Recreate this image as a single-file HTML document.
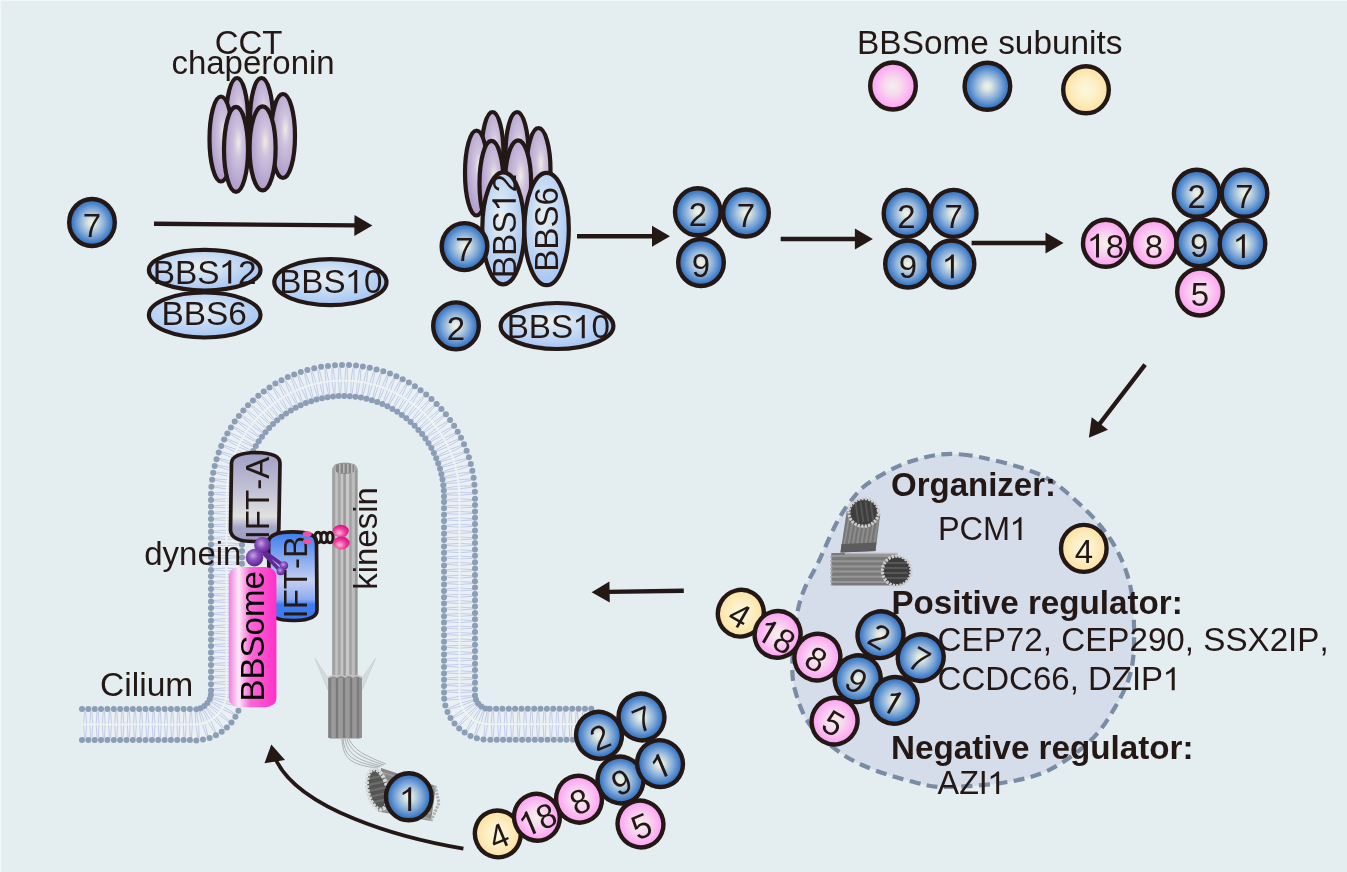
<!DOCTYPE html>
<html><head><meta charset="utf-8"><style>html,body{margin:0;padding:0;background:#e4edf0;}svg{display:block;font-kerning:none;filter:grayscale(0);}</style></head>
<body><svg width="1347" height="872" viewBox="0 0 1347 872">

<defs>
<radialGradient id="gB" cx="0.5" cy="0.5" r="0.5"><stop offset="0" stop-color="#eef3e2"/><stop offset="0.15" stop-color="#dfe9e4"/><stop offset="0.55" stop-color="#88aed9"/><stop offset="0.85" stop-color="#427ec8"/><stop offset="1" stop-color="#3473c2"/></radialGradient>
<radialGradient id="gP" cx="0.5" cy="0.5" r="0.5"><stop offset="0" stop-color="#f3f2e8"/><stop offset="0.35" stop-color="#f8daf0"/><stop offset="0.8" stop-color="#fcb0f2"/><stop offset="1" stop-color="#ff9cf0"/></radialGradient>
<radialGradient id="gY" cx="0.5" cy="0.5" r="0.5"><stop offset="0" stop-color="#fbf8e0"/><stop offset="0.5" stop-color="#fcefc4"/><stop offset="1" stop-color="#fde0a0"/></radialGradient>
<radialGradient id="gCCT" cx="0.6" cy="0.42" r="0.6"><stop offset="0" stop-color="#eeeee2"/><stop offset="0.3" stop-color="#cfc3de"/><stop offset="1" stop-color="#ac9aca"/></radialGradient>
<radialGradient id="gE" cx="0.45" cy="0.4" r="0.6"><stop offset="0" stop-color="#eaf1f0"/><stop offset="0.5" stop-color="#c6dbf4"/><stop offset="1" stop-color="#a6c5f4"/></radialGradient>
<linearGradient id="gIA" x1="0" y1="0" x2="0" y2="1"><stop offset="0" stop-color="#a09fc6"/><stop offset="0.45" stop-color="#c4c5d6"/><stop offset="0.72" stop-color="#e0e2e0"/><stop offset="0.84" stop-color="#a6a6c8"/><stop offset="1" stop-color="#9c9bc4"/></linearGradient>
<linearGradient id="gIB" x1="0" y1="0" x2="0" y2="1"><stop offset="0" stop-color="#3a7cf0"/><stop offset="0.55" stop-color="#c4d0f0"/><stop offset="0.76" stop-color="#8eaaf0"/><stop offset="0.82" stop-color="#3f7ef0"/><stop offset="1" stop-color="#3a78f0"/></linearGradient>
<linearGradient id="gBBS" x1="0" y1="0" x2="1" y2="0"><stop offset="0" stop-color="#f07ee0"/><stop offset="0.21" stop-color="#fce8f8"/><stop offset="0.45" stop-color="#fc68d8"/><stop offset="1" stop-color="#ff30c8"/></linearGradient>
<radialGradient id="gDyn" cx="0.42" cy="0.38" r="0.62"><stop offset="0" stop-color="#c4a4de"/><stop offset="0.45" stop-color="#8a52c0"/><stop offset="1" stop-color="#5c2290"/></radialGradient>
<radialGradient id="gKin" cx="0.4" cy="0.65" r="0.6"><stop offset="0" stop-color="#f9b8d8"/><stop offset="0.6" stop-color="#ec3f9c"/><stop offset="1" stop-color="#e4168a"/></radialGradient>
<linearGradient id="gAx" x1="0" y1="0" x2="1" y2="0"><stop offset="0" stop-color="#9a9a9a"/><stop offset="0.5" stop-color="#c6c6c6"/><stop offset="1" stop-color="#a0a0a0"/></linearGradient>
<linearGradient id="gBas" x1="0" y1="0" x2="1" y2="0"><stop offset="0" stop-color="#7a7a7a"/><stop offset="0.5" stop-color="#9a9a9a"/><stop offset="1" stop-color="#7c7c7c"/></linearGradient>
</defs>

<rect x="0" y="0" width="1347" height="872" fill="#e4edf0"/><rect x="0" y="0" width="1347" height="1.2" fill="#f0f7f7"/><rect x="0" y="0" width="1.2" height="872" fill="#f0f7f7"/>
<g font-family="Liberation Sans, sans-serif">
<g transform="translate(0 0)" stroke="#231815" stroke-width="4.2" fill="url(#gCCT)">
<ellipse cx="237" cy="120" rx="11" ry="42"/>
<ellipse cx="261.5" cy="120" rx="11.5" ry="42"/>
<ellipse cx="221" cy="139" rx="11.5" ry="42.5"/>
<ellipse cx="283" cy="136" rx="12" ry="42"/>
<ellipse cx="236" cy="149.4" rx="12" ry="42.5"/>
<ellipse cx="262.6" cy="148.4" rx="13" ry="42"/>
</g>
<text x="214.70" y="54.10" font-size="33" font-weight="normal" fill="#231815">CCT</text>
<text x="171.40" y="74.10" font-size="33" font-weight="normal" fill="#231815">chaperonin</text>
<ellipse cx="92.0" cy="222.5" rx="22.8" ry="23.5" fill="url(#gB)" stroke="#231815" stroke-width="4.4"/>
<g transform="translate(92.0 236.8) scale(1 1.035)"><text x="-9.18" y="0.00" font-size="33" font-weight="normal" fill="#231815">7</text>
</g>
<line x1="154" y1="223.8" x2="356.4" y2="225.4" stroke="#231815" stroke-width="4.4"/>
<polygon points="372.4,225.5 354.3,235.9 354.5,214.9" fill="#231815"/>
<ellipse cx="204.7" cy="270.2" rx="55.8" ry="20.3" fill="url(#gE)" stroke="#231815" stroke-width="4.2"/>
<text x="152.70" y="283.60" font-size="33.4" font-weight="normal" fill="#231815">BBS 2</text>
<path d="M0.35 0L0.35 0.70L0.285 0.70L0.25 0.65L0.18 0.595L0.09 0.548L0.09 0.468L0.17 0.505L0.26 0.565L0.26 0Z" fill="#231815" transform="translate(219.53 283.60) scale(33.4 -33.4)"/>
<ellipse cx="204.7" cy="315" rx="55.8" ry="22.5" fill="url(#gE)" stroke="#231815" stroke-width="4.2"/>
<text x="161.40" y="325.10" font-size="33.4" font-weight="normal" fill="#231815">BBS6</text>
<ellipse cx="330.4" cy="282.1" rx="56.1" ry="23" fill="url(#gE)" stroke="#231815" stroke-width="4.2"/>
<text x="279.20" y="293.30" font-size="33.2" font-weight="normal" fill="#231815">BBS 0</text>
<path d="M0.35 0L0.35 0.70L0.285 0.70L0.25 0.65L0.18 0.595L0.09 0.548L0.09 0.468L0.17 0.505L0.26 0.565L0.26 0Z" fill="#231815" transform="translate(345.63 293.30) scale(33.2 -33.2)"/>
<g transform="translate(255.5 34)" stroke="#231815" stroke-width="4.2" fill="url(#gCCT)">
<ellipse cx="237" cy="120" rx="11" ry="42"/>
<ellipse cx="261.5" cy="120" rx="11.5" ry="42"/>
<ellipse cx="221" cy="139" rx="11.5" ry="42.5"/>
<ellipse cx="283" cy="136" rx="12" ry="42"/>
<ellipse cx="236" cy="149.4" rx="12" ry="42.5"/>
<ellipse cx="262.6" cy="148.4" rx="13" ry="42"/>
</g>
<ellipse cx="503.3" cy="228.3" rx="21" ry="56" fill="url(#gE)" stroke="#231815" stroke-width="4.2"/>
<g transform="translate(515.8 226) rotate(-90)"><text x="-52.30" y="0.00" font-size="33.6" font-weight="normal" fill="#231815">BBS 2</text>
<path d="M0.35 0L0.35 0.70L0.285 0.70L0.25 0.65L0.18 0.595L0.09 0.548L0.09 0.468L0.17 0.505L0.26 0.565L0.26 0Z" fill="#231815" transform="translate(14.93 0.00) scale(33.6 -33.6)"/>
</g>
<ellipse cx="546.6" cy="229" rx="22.2" ry="56.2" fill="url(#gE)" stroke="#231815" stroke-width="4.2"/>
<g transform="translate(558 229.4) rotate(-90)"><text x="-42.45" y="0.00" font-size="33.2" font-weight="normal" fill="#231815">BBS6</text>
</g>
<ellipse cx="464.5" cy="246.6" rx="22.8" ry="23.5" fill="url(#gB)" stroke="#231815" stroke-width="4.4"/>
<g transform="translate(464.5 260.9) scale(1 1.035)"><text x="-9.18" y="0.00" font-size="33" font-weight="normal" fill="#231815">7</text>
</g>
<ellipse cx="456.0" cy="325.9" rx="22.8" ry="23.5" fill="url(#gB)" stroke="#231815" stroke-width="4.4"/>
<g transform="translate(456.0 340.2) scale(1 1.035)"><text x="-9.18" y="0.00" font-size="33" font-weight="normal" fill="#231815">2</text>
</g>
<ellipse cx="557" cy="326" rx="56.4" ry="23" fill="url(#gE)" stroke="#231815" stroke-width="4.2"/>
<text x="506.70" y="338.30" font-size="33.2" font-weight="normal" fill="#231815">BBS 0</text>
<path d="M0.35 0L0.35 0.70L0.285 0.70L0.25 0.65L0.18 0.595L0.09 0.548L0.09 0.468L0.17 0.505L0.26 0.565L0.26 0Z" fill="#231815" transform="translate(573.13 338.30) scale(33.2 -33.2)"/>
<line x1="577" y1="236.3" x2="654.0" y2="236.3" stroke="#231815" stroke-width="4.4"/>
<polygon points="670.0,236.3 652.0,246.8 652.0,225.8" fill="#231815"/>
<ellipse cx="697.8" cy="211.8" rx="22.8" ry="23.5" fill="url(#gB)" stroke="#231815" stroke-width="4.4"/>
<g transform="translate(697.8 226.1) scale(1 1.035)"><text x="-9.18" y="0.00" font-size="33" font-weight="normal" fill="#231815">2</text>
</g>
<ellipse cx="746.0" cy="213.0" rx="22.8" ry="23.5" fill="url(#gB)" stroke="#231815" stroke-width="4.4"/>
<g transform="translate(746.0 227.3) scale(1 1.035)"><text x="-9.18" y="0.00" font-size="33" font-weight="normal" fill="#231815">7</text>
</g>
<ellipse cx="701.0" cy="262.5" rx="22.8" ry="23.5" fill="url(#gB)" stroke="#231815" stroke-width="4.4"/>
<g transform="translate(701.0 276.8) scale(1 1.035)"><text x="-9.18" y="0.00" font-size="33" font-weight="normal" fill="#231815">9</text>
</g>
<line x1="780.7" y1="239" x2="856.9" y2="239.0" stroke="#231815" stroke-width="4.4"/>
<polygon points="872.9,239.0 854.9,249.5 854.9,228.5" fill="#231815"/>
<ellipse cx="906.5" cy="213.4" rx="22.8" ry="23.5" fill="url(#gB)" stroke="#231815" stroke-width="4.4"/>
<g transform="translate(906.5 227.7) scale(1 1.035)"><text x="-9.18" y="0.00" font-size="33" font-weight="normal" fill="#231815">2</text>
</g>
<ellipse cx="953.7" cy="213.4" rx="22.8" ry="23.5" fill="url(#gB)" stroke="#231815" stroke-width="4.4"/>
<g transform="translate(953.7 227.7) scale(1 1.035)"><text x="-9.18" y="0.00" font-size="33" font-weight="normal" fill="#231815">7</text>
</g>
<ellipse cx="908.0" cy="264.0" rx="22.8" ry="23.5" fill="url(#gB)" stroke="#231815" stroke-width="4.4"/>
<g transform="translate(908.0 278.3) scale(1 1.035)"><text x="-9.18" y="0.00" font-size="33" font-weight="normal" fill="#231815">9</text>
</g>
<ellipse cx="951.5" cy="264.0" rx="22.8" ry="23.5" fill="url(#gB)" stroke="#231815" stroke-width="4.4"/>
<g transform="translate(951.5 278.3) scale(1 1.035)"><text x="-9.18" y="0.00" font-size="33" font-weight="normal" fill="#231815"> </text>
<path d="M0.35 0L0.35 0.70L0.285 0.70L0.25 0.65L0.18 0.595L0.09 0.548L0.09 0.468L0.17 0.505L0.26 0.565L0.26 0Z" fill="#231815" transform="translate(-9.18 0.00) scale(33 -33)"/>
</g>
<line x1="971.6" y1="243" x2="1047.5" y2="243.0" stroke="#231815" stroke-width="4.4"/>
<polygon points="1063.5,243.0 1045.5,253.5 1045.5,232.5" fill="#231815"/>
<ellipse cx="1105.8" cy="243.3" rx="22.8" ry="23.5" fill="url(#gP)" stroke="#231815" stroke-width="4.4"/>
<g transform="translate(1105.8 257.6) scale(1 1.035)"><text x="-18.35" y="0.00" font-size="33" font-weight="normal" fill="#231815"> 8</text>
<path d="M0.35 0L0.35 0.70L0.285 0.70L0.25 0.65L0.18 0.595L0.09 0.548L0.09 0.468L0.17 0.505L0.26 0.565L0.26 0Z" fill="#231815" transform="translate(-18.35 0.00) scale(33 -33)"/>
</g>
<ellipse cx="1153.8" cy="243.3" rx="22.8" ry="23.5" fill="url(#gP)" stroke="#231815" stroke-width="4.4"/>
<g transform="translate(1153.8 257.6) scale(1 1.035)"><text x="-9.18" y="0.00" font-size="33" font-weight="normal" fill="#231815">8</text>
</g>
<ellipse cx="1199.2" cy="242.6" rx="22.8" ry="23.5" fill="url(#gB)" stroke="#231815" stroke-width="4.4"/>
<g transform="translate(1199.2 256.9) scale(1 1.035)"><text x="-9.18" y="0.00" font-size="33" font-weight="normal" fill="#231815">9</text>
</g>
<ellipse cx="1242.5" cy="243.8" rx="22.8" ry="23.5" fill="url(#gB)" stroke="#231815" stroke-width="4.4"/>
<g transform="translate(1242.5 258.1) scale(1 1.035)"><text x="-9.18" y="0.00" font-size="33" font-weight="normal" fill="#231815"> </text>
<path d="M0.35 0L0.35 0.70L0.285 0.70L0.25 0.65L0.18 0.595L0.09 0.548L0.09 0.468L0.17 0.505L0.26 0.565L0.26 0Z" fill="#231815" transform="translate(-9.18 0.00) scale(33 -33)"/>
</g>
<ellipse cx="1196.7" cy="193.3" rx="22.8" ry="23.5" fill="url(#gB)" stroke="#231815" stroke-width="4.4"/>
<g transform="translate(1196.7 207.6) scale(1 1.035)"><text x="-9.18" y="0.00" font-size="33" font-weight="normal" fill="#231815">2</text>
</g>
<ellipse cx="1244.5" cy="193.3" rx="22.8" ry="23.5" fill="url(#gB)" stroke="#231815" stroke-width="4.4"/>
<g transform="translate(1244.5 207.6) scale(1 1.035)"><text x="-9.18" y="0.00" font-size="33" font-weight="normal" fill="#231815">7</text>
</g>
<ellipse cx="1200.0" cy="292.0" rx="22.8" ry="23.5" fill="url(#gP)" stroke="#231815" stroke-width="4.4"/>
<g transform="translate(1200.0 306.3) scale(1 1.035)"><text x="-9.18" y="0.00" font-size="33" font-weight="normal" fill="#231815">5</text>
</g>
<text x="857.10" y="53.70" font-size="33.4" font-weight="normal" fill="#231815">BBSome subunits</text>
<ellipse cx="893.0" cy="86.0" rx="22.8" ry="23.5" fill="url(#gP)" stroke="#231815" stroke-width="4.4"/>
<ellipse cx="987.4" cy="86.3" rx="22.8" ry="23.5" fill="url(#gB)" stroke="#231815" stroke-width="4.4"/>
<ellipse cx="1086.0" cy="89.8" rx="22.8" ry="23.5" fill="url(#gY)" stroke="#231815" stroke-width="4.4"/>
<line x1="1145.1" y1="364.7" x2="1098.7" y2="425.0" stroke="#231815" stroke-width="4.4"/>
<polygon points="1088.9,437.7 1091.7,417.2 1108.0,429.7" fill="#231815"/>
<line x1="683.8" y1="590.7" x2="607.6" y2="591.9" stroke="#231815" stroke-width="4.4"/>
<polygon points="591.6,592.2 609.4,581.4 609.8,602.4" fill="#231815"/>
</g>
<path d="M82 724.5L194 724.5A32.5 32.5 0 0 0 226.5 692.5L226.5 497A116.5 116.5 0 0 1 459.5 497L459.5 694.5A30 30 0 0 0 489.5 724.2L593 724.2" fill="none" stroke="#eaf0f3" stroke-width="28"/>
<path d="M84.5 711.0L83.7 723.9M85.7 711.0L86.5 723.9M84.5 738.0L83.7 725.1M85.7 738.0L86.5 725.1M90.7 711.0L89.9 723.9M91.9 711.0L92.7 723.9M90.7 738.0L89.9 725.1M91.9 738.0L92.7 725.1M97.0 711.0L96.2 723.9M98.2 711.0L99.0 723.9M97.0 738.0L96.2 725.1M98.2 738.0L99.0 725.1M103.2 711.0L102.4 723.9M104.4 711.0L105.2 723.9M103.2 738.0L102.4 725.1M104.4 738.0L105.2 725.1M109.4 711.0L108.6 723.9M110.6 711.0L111.4 723.9M109.4 738.0L108.6 725.1M110.6 738.0L111.4 725.1M115.6 711.0L114.8 723.9M116.8 711.0L117.6 723.9M115.6 738.0L114.8 725.1M116.8 738.0L117.6 725.1M121.8 711.0L121.0 723.9M123.0 711.0L123.8 723.9M121.8 738.0L121.0 725.1M123.0 738.0L123.8 725.1M128.1 711.0L127.3 723.9M129.3 711.0L130.1 723.9M128.1 738.0L127.3 725.1M129.3 738.0L130.1 725.1M134.3 711.0L133.5 723.9M135.5 711.0L136.3 723.9M134.3 738.0L133.5 725.1M135.5 738.0L136.3 725.1M140.5 711.0L139.7 723.9M141.7 711.0L142.5 723.9M140.5 738.0L139.7 725.1M141.7 738.0L142.5 725.1M146.7 711.0L145.9 723.9M147.9 711.0L148.7 723.9M146.7 738.0L145.9 725.1M147.9 738.0L148.7 725.1M153.0 711.0L152.2 723.9M154.2 711.0L155.0 723.9M153.0 738.0L152.2 725.1M154.2 738.0L155.0 725.1M159.2 711.0L158.4 723.9M160.4 711.0L161.2 723.9M159.2 738.0L158.4 725.1M160.4 738.0L161.2 725.1M165.4 711.0L164.6 723.9M166.6 711.0L167.4 723.9M165.4 738.0L164.6 725.1M166.6 738.0L167.4 725.1M171.6 711.0L170.8 723.9M172.8 711.0L173.6 723.9M171.6 738.0L170.8 725.1M172.8 738.0L173.6 725.1M177.8 711.0L177.0 723.9M179.0 711.0L179.8 723.9M177.8 738.0L177.0 725.1M179.0 738.0L179.8 725.1M184.1 711.0L183.3 723.9M185.3 711.0L186.1 723.9M184.1 738.0L183.3 725.1M185.3 738.0L186.1 725.1M190.3 711.0L189.5 723.9M191.5 711.0L192.3 723.9M190.3 738.0L189.5 725.1M191.5 738.0L192.3 725.1M195.3 711.5L195.7 724.4M196.5 711.3L198.5 724.1M197.9 738.3L195.9 725.6M199.1 738.2L198.6 725.3M198.9 710.9L201.9 723.4M200.1 710.5L204.6 722.6M206.8 736.7L202.3 724.6M207.9 736.3L204.9 723.8M202.4 709.5L207.8 721.3M203.5 709.0L210.3 720.0M215.2 733.4L208.4 722.4M216.2 732.8L210.8 721.0M205.6 707.6L213.2 718.0M206.5 706.8L215.3 716.3M222.7 728.4L213.9 719.0M223.6 727.7L216.1 717.2M208.3 705.0L217.8 713.8M209.1 704.1L219.5 711.7M229.2 722.1L218.7 714.6M229.9 721.2L220.5 712.4M210.5 702.0L221.5 708.8M211.0 700.9L222.8 706.3M234.3 714.7L222.5 709.3M234.9 713.7L223.9 706.9M212.0 698.6L224.1 703.1M212.4 697.4L224.9 700.4M237.8 706.4L225.3 703.4M238.2 705.3L226.1 700.8M212.8 695.0L225.6 697.0M213.0 693.8L225.9 694.2M239.7 697.6L226.8 697.1M239.8 696.4L227.1 694.4M213.0 689.9L225.9 690.7M213.0 688.7L225.9 687.9M240.0 689.9L227.1 690.7M240.0 688.7L227.1 687.9M213.0 683.6L225.9 684.4M213.0 682.4L225.9 681.6M240.0 683.6L227.1 684.4M240.0 682.4L227.1 681.6M213.0 677.3L225.9 678.1M213.0 676.1L225.9 675.3M240.0 677.3L227.1 678.1M240.0 676.1L227.1 675.3M213.0 671.0L225.9 671.8M213.0 669.8L225.9 669.0M240.0 671.0L227.1 671.8M240.0 669.8L227.1 669.0M213.0 664.7L225.9 665.5M213.0 663.5L225.9 662.7M240.0 664.7L227.1 665.5M240.0 663.5L227.1 662.7M213.0 658.4L225.9 659.2M213.0 657.2L225.9 656.4M240.0 658.4L227.1 659.2M240.0 657.2L227.1 656.4M213.0 652.1L225.9 652.9M213.0 650.9L225.9 650.1M240.0 652.1L227.1 652.9M240.0 650.9L227.1 650.1M213.0 645.8L225.9 646.6M213.0 644.6L225.9 643.8M240.0 645.8L227.1 646.6M240.0 644.6L227.1 643.8M213.0 639.5L225.9 640.3M213.0 638.3L225.9 637.5M240.0 639.5L227.1 640.3M240.0 638.3L227.1 637.5M213.0 633.2L225.9 634.0M213.0 632.0L225.9 631.2M240.0 633.2L227.1 634.0M240.0 632.0L227.1 631.2M213.0 626.9L225.9 627.7M213.0 625.7L225.9 624.9M240.0 626.9L227.1 627.7M240.0 625.7L227.1 624.9M213.0 620.6L225.9 621.4M213.0 619.4L225.9 618.6M240.0 620.6L227.1 621.4M240.0 619.4L227.1 618.6M213.0 614.3L225.9 615.1M213.0 613.1L225.9 612.3M240.0 614.3L227.1 615.1M240.0 613.1L227.1 612.3M213.0 608.0L225.9 608.8M213.0 606.8L225.9 606.0M240.0 608.0L227.1 608.8M240.0 606.8L227.1 606.0M213.0 601.7L225.9 602.5M213.0 600.5L225.9 599.7M240.0 601.7L227.1 602.5M240.0 600.5L227.1 599.7M213.0 595.4L225.9 596.1M213.0 594.1L225.9 593.4M240.0 595.4L227.1 596.1M240.0 594.1L227.1 593.4M213.0 589.0L225.9 589.8M213.0 587.8L225.9 587.0M240.0 589.0L227.1 589.8M240.0 587.8L227.1 587.0M213.0 582.7L225.9 583.5M213.0 581.5L225.9 580.7M240.0 582.7L227.1 583.5M240.0 581.5L227.1 580.7M213.0 576.4L225.9 577.2M213.0 575.2L225.9 574.4M240.0 576.4L227.1 577.2M240.0 575.2L227.1 574.4M213.0 570.1L225.9 570.9M213.0 568.9L225.9 568.1M240.0 570.1L227.1 570.9M240.0 568.9L227.1 568.1M213.0 563.8L225.9 564.6M213.0 562.6L225.9 561.8M240.0 563.8L227.1 564.6M240.0 562.6L227.1 561.8M213.0 557.5L225.9 558.3M213.0 556.3L225.9 555.5M240.0 557.5L227.1 558.3M240.0 556.3L227.1 555.5M213.0 551.2L225.9 552.0M213.0 550.0L225.9 549.2M240.0 551.2L227.1 552.0M240.0 550.0L227.1 549.2M213.0 544.9L225.9 545.7M213.0 543.7L225.9 542.9M240.0 544.9L227.1 545.7M240.0 543.7L227.1 542.9M213.0 538.6L225.9 539.4M213.0 537.4L225.9 536.6M240.0 538.6L227.1 539.4M240.0 537.4L227.1 536.6M213.0 532.3L225.9 533.1M213.0 531.1L225.9 530.3M240.0 532.3L227.1 533.1M240.0 531.1L227.1 530.3M213.0 526.0L225.9 526.8M213.0 524.8L225.9 524.0M240.0 526.0L227.1 526.8M240.0 524.8L227.1 524.0M213.0 519.7L225.9 520.5M213.0 518.5L225.9 517.7M240.0 519.7L227.1 520.5M240.0 518.5L227.1 517.7M213.0 513.4L225.9 514.2M213.0 512.2L225.9 511.4M240.0 513.4L227.1 514.2M240.0 512.2L227.1 511.4M213.0 507.1L225.9 507.9M213.0 505.9L225.9 505.1M240.0 507.1L227.1 507.9M240.0 505.9L227.1 505.1M213.0 500.8L225.9 501.6M213.0 499.6L225.9 498.8M240.0 500.8L227.1 501.6M240.0 499.6L227.1 498.8M213.0 494.1L225.9 495.2M213.1 492.9L226.0 492.4M240.0 494.8L227.1 495.3M240.1 493.6L227.2 492.5M213.4 487.0L226.2 488.9M213.5 485.9L226.4 486.1M240.3 489.2L227.4 489.0M240.4 488.0L227.6 486.2M214.1 480.0L226.8 482.6M214.3 478.9L227.2 479.8M240.9 483.7L228.0 482.7M241.0 482.5L228.3 480.0M215.2 473.1L227.7 476.3M215.4 471.9L228.3 473.6M241.7 478.2L228.9 476.5M242.0 477.0L229.4 473.8M216.7 466.2L229.0 470.1M217.0 465.0L229.7 467.4M242.9 472.7L230.2 470.4M243.2 471.6L230.9 467.7M218.6 459.4L230.6 464.0M218.9 458.3L231.5 461.3M244.4 467.3L231.8 464.3M244.7 466.2L232.6 461.6M220.8 452.7L232.6 457.9M221.2 451.6L233.6 455.3M246.1 462.0L233.7 458.3M246.5 460.9L234.7 455.7M223.3 446.2L234.9 452.0M223.8 445.1L236.0 449.4M248.1 456.8L236.0 452.5M248.6 455.7L237.1 449.9M226.3 439.8L237.5 446.2M226.8 438.7L238.7 443.7M250.5 451.8L238.5 446.8M251.0 450.7L239.8 444.3M229.5 433.5L240.4 440.6M230.1 432.5L241.8 438.1M253.0 446.8L241.4 441.2M253.6 445.8L242.8 438.7M233.1 427.5L243.6 435.1M233.8 426.5L245.1 432.8M255.9 442.0L244.6 435.8M256.5 441.0L246.1 433.4M237.1 421.6L247.1 429.8M237.8 420.7L248.7 427.5M259.0 437.4L248.1 430.5M259.7 436.4L249.7 428.2M241.3 416.0L250.9 424.7M242.1 415.1L252.6 422.5M262.3 432.9L251.8 425.5M263.1 432.0L253.5 423.3M245.8 410.6L254.9 419.8M246.6 409.7L256.8 417.8M265.9 428.7L255.8 420.6M266.7 427.8L257.7 418.6M250.7 405.5L259.2 415.2M251.5 404.7L261.2 413.2M269.7 424.6L260.1 416.0M270.6 423.7L262.0 414.1M255.7 400.6L263.8 410.8M256.6 399.8L265.8 408.9M273.8 420.7L264.6 411.7M274.7 419.9L266.6 409.8M261.1 396.1L268.5 406.6M262.0 395.3L270.7 404.9M278.0 417.1L269.3 407.5M278.9 416.3L271.5 405.8M266.7 391.8L273.5 402.7M267.6 391.1L275.8 401.1M282.4 413.7L274.2 403.7M283.4 413.0L276.5 402.1M272.5 387.8L278.8 399.1M273.5 387.1L281.1 397.6M287.0 410.5L279.4 400.1M288.0 409.9L281.8 398.6M278.5 384.1L284.1 395.8M279.5 383.5L286.6 394.4M291.8 407.6L284.7 396.8M292.8 407.0L287.2 395.4M284.7 380.8L289.7 392.7M285.8 380.3L292.2 391.5M296.7 405.0L290.3 393.8M297.8 404.5L292.8 392.5M291.1 377.8L295.4 390.0M292.2 377.3L298.0 388.9M301.7 402.6L295.9 391.1M302.8 402.1L298.5 390.0M297.6 375.2L301.3 387.6M298.7 374.8L303.9 386.6M306.9 400.5L301.7 388.7M308.0 400.1L304.3 387.7M304.3 372.9L307.3 385.5M305.4 372.6L310.0 384.6M312.2 398.7L307.6 386.6M313.3 398.4L310.3 385.8M311.0 371.0L313.4 383.7M312.2 370.7L316.1 383.0M317.6 397.2L313.7 384.9M318.7 396.9L316.4 384.2M317.9 369.4L319.6 382.3M319.1 369.2L322.3 381.7M323.0 396.0L319.8 383.4M324.2 395.7L322.5 382.9M324.9 368.3L325.8 381.2M326.0 368.1L328.6 380.8M328.5 395.0L326.0 382.3M329.7 394.9L328.7 382.0M331.9 367.5L332.1 380.4M333.0 367.4L334.9 380.2M334.0 394.4L332.2 381.6M335.2 394.3L335.0 381.4M338.9 367.1L338.4 380.0M340.1 367.0L341.2 379.9M339.6 394.1L338.5 381.2M340.8 394.0L341.3 381.1M345.9 367.0L344.8 379.9M347.1 367.1L347.6 380.0M345.2 394.0L344.7 381.1M346.4 394.1L347.5 381.2M353.0 367.4L351.1 380.2M354.1 367.5L353.9 380.4M350.8 394.3L351.0 381.4M352.0 394.4L353.8 381.6M360.0 368.1L357.4 380.8M361.1 368.3L360.2 381.2M356.3 394.9L357.3 382.0M357.5 395.0L360.0 382.3M366.9 369.2L363.7 381.7M368.1 369.4L366.4 382.3M361.8 395.7L363.5 382.9M363.0 396.0L366.2 383.4M373.8 370.7L369.9 383.0M375.0 371.0L372.6 383.7M367.3 396.9L369.6 384.2M368.4 397.2L372.3 384.9M380.6 372.6L376.0 384.6M381.7 372.9L378.7 385.5M372.7 398.4L375.7 385.8M373.8 398.7L378.4 386.6M387.3 374.8L382.1 386.6M388.4 375.2L384.7 387.6M378.0 400.1L381.7 387.7M379.1 400.5L384.3 388.7M393.8 377.3L388.0 388.9M394.9 377.8L390.6 390.0M383.2 402.1L387.5 390.0M384.3 402.6L390.1 391.1M400.2 380.3L393.8 391.5M401.3 380.8L396.3 392.7M388.2 404.5L393.2 392.5M389.3 405.0L395.7 393.8M406.5 383.5L399.4 394.4M407.5 384.1L401.9 395.8M393.2 407.0L398.8 395.4M394.2 407.6L401.3 396.8M412.5 387.1L404.9 397.6M413.5 387.8L407.2 399.1M398.0 409.9L404.2 398.6M399.0 410.5L406.6 400.1M418.4 391.1L410.2 401.1M419.3 391.8L412.5 402.7M402.6 413.0L409.5 402.1M403.6 413.7L411.8 403.7M424.0 395.3L415.3 404.9M424.9 396.1L417.5 406.6M407.1 416.3L414.5 405.8M408.0 417.1L416.7 407.5M429.4 399.8L420.2 408.9M430.3 400.6L422.2 410.8M411.3 419.9L419.4 409.8M412.2 420.7L421.4 411.7M434.5 404.7L424.8 413.2M435.3 405.5L426.8 415.2M415.4 423.7L424.0 414.1M416.3 424.6L425.9 416.0M439.4 409.7L429.2 417.8M440.2 410.6L431.1 419.8M419.3 427.8L428.3 418.6M420.1 428.7L430.2 420.6M443.9 415.1L433.4 422.5M444.7 416.0L435.1 424.7M422.9 432.0L432.5 423.3M423.7 432.9L434.2 425.5M448.2 420.7L437.3 427.5M448.9 421.6L438.9 429.8M426.3 436.4L436.3 428.2M427.0 437.4L437.9 430.5M452.2 426.5L440.9 432.8M452.9 427.5L442.4 435.1M429.5 441.0L439.9 433.4M430.1 442.0L441.4 435.8M455.9 432.5L444.2 438.1M456.5 433.5L445.6 440.6M432.4 445.8L443.2 438.7M433.0 446.8L444.6 441.2M459.2 438.7L447.3 443.7M459.7 439.8L448.5 446.2M435.0 450.7L446.2 444.3M435.5 451.8L447.5 446.8M462.2 445.1L450.0 449.4M462.7 446.2L451.1 452.0M437.4 455.7L448.9 449.9M437.9 456.8L450.0 452.5M464.8 451.6L452.4 455.3M465.2 452.7L453.4 457.9M439.5 460.9L451.3 455.7M439.9 462.0L452.3 458.3M467.1 458.3L454.5 461.3M467.4 459.4L455.4 464.0M441.3 466.2L453.4 461.6M441.6 467.3L454.2 464.3M469.0 465.0L456.3 467.4M469.3 466.2L457.0 470.1M442.8 471.6L455.1 467.7M443.1 472.7L455.8 470.4M470.6 471.9L457.7 473.6M470.8 473.1L458.3 476.3M444.0 477.0L456.6 473.8M444.3 478.2L457.1 476.5M471.7 478.9L458.8 479.8M471.9 480.0L459.2 482.6M445.0 482.5L457.7 480.0M445.1 483.7L458.0 482.7M472.5 485.9L459.6 486.1M472.6 487.0L459.8 488.9M445.6 488.0L458.4 486.2M445.7 489.2L458.6 489.0M472.9 492.9L460.0 492.4M473.0 494.1L460.1 495.2M445.9 493.6L458.8 492.5M446.0 494.8L458.9 495.3M473.0 499.6L460.1 498.8M473.0 500.8L460.1 501.6M446.0 499.6L458.9 498.8M446.0 500.8L458.9 501.6M473.0 506.0L460.1 505.2M473.0 507.2L460.1 508.0M446.0 506.0L458.9 505.2M446.0 507.2L458.9 508.0M473.0 512.3L460.1 511.5M473.0 513.5L460.1 514.3M446.0 512.3L458.9 511.5M446.0 513.5L458.9 514.3M473.0 518.7L460.1 517.9M473.0 519.9L460.1 520.7M446.0 518.7L458.9 517.9M446.0 519.9L458.9 520.7M473.0 525.1L460.1 524.3M473.0 526.3L460.1 527.1M446.0 525.1L458.9 524.3M446.0 526.3L458.9 527.1M473.0 531.4L460.1 530.6M473.0 532.6L460.1 533.4M446.0 531.4L458.9 530.6M446.0 532.6L458.9 533.4M473.0 537.8L460.1 537.0M473.0 539.0L460.1 539.8M446.0 537.8L458.9 537.0M446.0 539.0L458.9 539.8M473.0 544.2L460.1 543.4M473.0 545.4L460.1 546.2M446.0 544.2L458.9 543.4M446.0 545.4L458.9 546.2M473.0 550.6L460.1 549.8M473.0 551.8L460.1 552.6M446.0 550.6L458.9 549.8M446.0 551.8L458.9 552.6M473.0 556.9L460.1 556.1M473.0 558.1L460.1 558.9M446.0 556.9L458.9 556.1M446.0 558.1L458.9 558.9M473.0 563.3L460.1 562.5M473.0 564.5L460.1 565.3M446.0 563.3L458.9 562.5M446.0 564.5L458.9 565.3M473.0 569.7L460.1 568.9M473.0 570.9L460.1 571.7M446.0 569.7L458.9 568.9M446.0 570.9L458.9 571.7M473.0 576.0L460.1 575.2M473.0 577.2L460.1 578.0M446.0 576.0L458.9 575.2M446.0 577.2L458.9 578.0M473.0 582.4L460.1 581.6M473.0 583.6L460.1 584.4M446.0 582.4L458.9 581.6M446.0 583.6L458.9 584.4M473.0 588.8L460.1 588.0M473.0 590.0L460.1 590.8M446.0 588.8L458.9 588.0M446.0 590.0L458.9 590.8M473.0 595.1L460.1 594.4M473.0 596.4L460.1 597.1M446.0 595.1L458.9 594.4M446.0 596.4L458.9 597.1M473.0 601.5L460.1 600.7M473.0 602.7L460.1 603.5M446.0 601.5L458.9 600.7M446.0 602.7L458.9 603.5M473.0 607.9L460.1 607.1M473.0 609.1L460.1 609.9M446.0 607.9L458.9 607.1M446.0 609.1L458.9 609.9M473.0 614.3L460.1 613.5M473.0 615.5L460.1 616.3M446.0 614.3L458.9 613.5M446.0 615.5L458.9 616.3M473.0 620.6L460.1 619.8M473.0 621.8L460.1 622.6M446.0 620.6L458.9 619.8M446.0 621.8L458.9 622.6M473.0 627.0L460.1 626.2M473.0 628.2L460.1 629.0M446.0 627.0L458.9 626.2M446.0 628.2L458.9 629.0M473.0 633.4L460.1 632.6M473.0 634.6L460.1 635.4M446.0 633.4L458.9 632.6M446.0 634.6L458.9 635.4M473.0 639.7L460.1 638.9M473.0 640.9L460.1 641.7M446.0 639.7L458.9 638.9M446.0 640.9L458.9 641.7M473.0 646.1L460.1 645.3M473.0 647.3L460.1 648.1M446.0 646.1L458.9 645.3M446.0 647.3L458.9 648.1M473.0 652.5L460.1 651.7M473.0 653.7L460.1 654.5M446.0 652.5L458.9 651.7M446.0 653.7L458.9 654.5M473.0 658.9L460.1 658.1M473.0 660.1L460.1 660.9M446.0 658.9L458.9 658.1M446.0 660.1L458.9 660.9M473.0 665.2L460.1 664.4M473.0 666.4L460.1 667.2M446.0 665.2L458.9 664.4M446.0 666.4L458.9 667.2M473.0 671.6L460.1 670.8M473.0 672.8L460.1 673.6M446.0 671.6L458.9 670.8M446.0 672.8L458.9 673.6M473.0 678.0L460.1 677.2M473.0 679.2L460.1 680.0M446.0 678.0L458.9 677.2M446.0 679.2L458.9 680.0M473.0 684.3L460.1 683.5M473.0 685.5L460.1 686.3M446.0 684.3L458.9 683.5M446.0 685.5L458.9 686.3M473.0 690.7L460.1 689.9M473.0 691.9L460.1 692.7M446.0 690.7L458.9 689.9M446.0 691.9L458.9 692.7M473.0 695.8L460.1 696.4M473.2 696.9L460.4 699.2M446.2 698.8L458.9 696.5M446.3 700.0L459.2 699.3M473.7 699.4L461.3 702.9M474.1 700.5L462.2 705.5M448.2 708.3L460.2 703.3M448.6 709.4L461.1 705.9M475.2 702.8L463.9 709.0M475.8 703.8L465.4 711.3M452.3 717.1L462.8 709.6M453.0 718.2L464.3 712.0M477.4 705.7L467.7 714.3M478.3 706.6L469.7 716.3M458.3 724.8L466.9 715.1M459.2 725.7L468.9 717.1M480.2 708.2L472.7 718.6M481.2 708.8L475.0 720.1M465.8 731.0L472.0 719.7M466.9 731.7L474.4 721.2M483.5 709.9L478.5 721.8M484.6 710.3L481.1 722.7M474.6 735.4L478.1 722.9M475.7 735.8L480.7 723.8M487.1 710.8L484.8 723.6M488.2 711.0L487.6 723.9M484.0 737.7L484.7 724.8M485.2 737.8L487.5 725.1M492.1 710.7L491.3 723.6M493.3 710.7L494.1 723.6M492.1 737.7L491.3 724.8M493.3 737.7L494.1 724.8M498.6 710.7L497.8 723.6M499.8 710.7L500.6 723.6M498.6 737.7L497.8 724.8M499.8 737.7L500.6 724.8M505.1 710.7L504.3 723.6M506.3 710.7L507.1 723.6M505.1 737.7L504.3 724.8M506.3 737.7L507.1 724.8M511.5 710.7L510.7 723.6M512.7 710.7L513.5 723.6M511.5 737.7L510.7 724.8M512.7 737.7L513.5 724.8M518.0 710.7L517.2 723.6M519.2 710.7L520.0 723.6M518.0 737.7L517.2 724.8M519.2 737.7L520.0 724.8M524.5 710.7L523.7 723.6M525.7 710.7L526.5 723.6M524.5 737.7L523.7 724.8M525.7 737.7L526.5 724.8M530.9 710.7L530.1 723.6M532.1 710.7L532.9 723.6M530.9 737.7L530.1 724.8M532.1 737.7L532.9 724.8M537.4 710.7L536.6 723.6M538.6 710.7L539.4 723.6M537.4 737.7L536.6 724.8M538.6 737.7L539.4 724.8M543.9 710.7L543.1 723.6M545.1 710.7L545.9 723.6M543.9 737.7L543.1 724.8M545.1 737.7L545.9 724.8M550.4 710.7L549.6 723.6M551.6 710.7L552.4 723.6M550.4 737.7L549.6 724.8M551.6 737.7L552.4 724.8M556.8 710.7L556.0 723.6M558.0 710.7L558.8 723.6M556.8 737.7L556.0 724.8M558.0 737.7L558.8 724.8M563.3 710.7L562.5 723.6M564.5 710.7L565.3 723.6M563.3 737.7L562.5 724.8M564.5 737.7L565.3 724.8M569.8 710.7L569.0 723.6M571.0 710.7L571.8 723.6M569.8 737.7L569.0 724.8M571.0 737.7L571.8 724.8M576.2 710.7L575.4 723.6M577.4 710.7L578.2 723.6M576.2 737.7L575.4 724.8M577.4 737.7L578.2 724.8M582.7 710.7L581.9 723.6M583.9 710.7L584.7 723.6M582.7 737.7L581.9 724.8M583.9 737.7L584.7 724.8M589.2 710.7L588.4 723.6M590.4 710.7L591.2 723.6M589.2 737.7L588.4 724.8M590.4 737.7L591.2 724.8" fill="none" stroke="#bcc8e6" stroke-width="0.9"/>
<path d="M82 724.5L194 724.5A32.5 32.5 0 0 0 226.5 692.5L226.5 497A116.5 116.5 0 0 1 459.5 497L459.5 694.5A30 30 0 0 0 489.5 724.2L593 724.2" fill="none" stroke="#eef4f4" stroke-width="1.6"/>
<g fill="#8c9db6"><circle cx="82.0" cy="709.0" r="3.0"/><circle cx="88.3" cy="709.0" r="3.0"/><circle cx="94.7" cy="709.0" r="3.0"/><circle cx="101.0" cy="709.0" r="3.0"/><circle cx="107.4" cy="709.0" r="3.0"/><circle cx="113.8" cy="709.0" r="3.0"/><circle cx="120.1" cy="709.0" r="3.0"/><circle cx="126.5" cy="709.0" r="3.0"/><circle cx="132.8" cy="709.0" r="3.0"/><circle cx="139.2" cy="709.0" r="3.0"/><circle cx="145.5" cy="709.0" r="3.0"/><circle cx="151.9" cy="709.0" r="3.0"/><circle cx="158.2" cy="709.0" r="3.0"/><circle cx="164.6" cy="709.0" r="3.0"/><circle cx="170.9" cy="709.0" r="3.0"/><circle cx="177.2" cy="709.0" r="3.0"/><circle cx="183.6" cy="709.0" r="3.0"/><circle cx="189.9" cy="709.0" r="3.0"/><circle cx="196.3" cy="709.3" r="3.0"/><circle cx="200.5" cy="708.2" r="3.0"/><circle cx="204.3" cy="706.0" r="3.0"/><circle cx="207.4" cy="702.9" r="3.0"/><circle cx="209.7" cy="699.1" r="3.0"/><circle cx="210.8" cy="694.9" r="3.0"/><circle cx="211.0" cy="690.5" r="3.0"/><circle cx="211.0" cy="684.2" r="3.0"/><circle cx="211.0" cy="677.8" r="3.0"/><circle cx="211.0" cy="671.5" r="3.0"/><circle cx="211.0" cy="665.1" r="3.0"/><circle cx="211.0" cy="658.8" r="3.0"/><circle cx="211.0" cy="652.4" r="3.0"/><circle cx="211.0" cy="646.1" r="3.0"/><circle cx="211.0" cy="639.7" r="3.0"/><circle cx="211.0" cy="633.4" r="3.0"/><circle cx="211.0" cy="627.0" r="3.0"/><circle cx="211.0" cy="620.7" r="3.0"/><circle cx="211.0" cy="614.3" r="3.0"/><circle cx="211.0" cy="608.0" r="3.0"/><circle cx="211.0" cy="601.6" r="3.0"/><circle cx="211.0" cy="595.3" r="3.0"/><circle cx="211.0" cy="588.9" r="3.0"/><circle cx="211.0" cy="582.6" r="3.0"/><circle cx="211.0" cy="576.2" r="3.0"/><circle cx="211.0" cy="569.9" r="3.0"/><circle cx="211.0" cy="563.5" r="3.0"/><circle cx="211.0" cy="557.2" r="3.0"/><circle cx="211.0" cy="550.8" r="3.0"/><circle cx="211.0" cy="544.5" r="3.0"/><circle cx="211.0" cy="538.1" r="3.0"/><circle cx="211.0" cy="531.8" r="3.0"/><circle cx="211.0" cy="525.4" r="3.0"/><circle cx="211.0" cy="519.1" r="3.0"/><circle cx="211.0" cy="512.7" r="3.0"/><circle cx="211.0" cy="506.4" r="3.0"/><circle cx="211.0" cy="500.0" r="3.0"/><circle cx="211.0" cy="493.7" r="3.0"/><circle cx="211.4" cy="486.7" r="3.0"/><circle cx="212.1" cy="479.7" r="3.0"/><circle cx="213.2" cy="472.8" r="3.0"/><circle cx="214.7" cy="465.9" r="3.0"/><circle cx="216.5" cy="459.2" r="3.0"/><circle cx="218.7" cy="452.5" r="3.0"/><circle cx="221.2" cy="446.0" r="3.0"/><circle cx="224.1" cy="439.6" r="3.0"/><circle cx="227.3" cy="433.4" r="3.0"/><circle cx="230.9" cy="427.4" r="3.0"/><circle cx="234.7" cy="421.5" r="3.0"/><circle cx="238.9" cy="415.9" r="3.0"/><circle cx="243.3" cy="410.5" r="3.0"/><circle cx="248.0" cy="405.3" r="3.0"/><circle cx="253.0" cy="400.4" r="3.0"/><circle cx="258.3" cy="395.8" r="3.0"/><circle cx="263.8" cy="391.4" r="3.0"/><circle cx="269.5" cy="387.4" r="3.0"/><circle cx="275.4" cy="383.6" r="3.0"/><circle cx="281.5" cy="380.2" r="3.0"/><circle cx="287.8" cy="377.1" r="3.0"/><circle cx="294.2" cy="374.4" r="3.0"/><circle cx="300.8" cy="371.9" r="3.0"/><circle cx="307.4" cy="369.9" r="3.0"/><circle cx="314.2" cy="368.2" r="3.0"/><circle cx="321.1" cy="366.8" r="3.0"/><circle cx="328.0" cy="365.9" r="3.0"/><circle cx="335.0" cy="365.2" r="3.0"/><circle cx="342.0" cy="365.0" r="3.0"/><circle cx="349.0" cy="365.1" r="3.0"/><circle cx="356.0" cy="365.6" r="3.0"/><circle cx="362.9" cy="366.5" r="3.0"/><circle cx="369.8" cy="367.8" r="3.0"/><circle cx="376.6" cy="369.4" r="3.0"/><circle cx="383.3" cy="371.3" r="3.0"/><circle cx="390.0" cy="373.6" r="3.0"/><circle cx="396.4" cy="376.3" r="3.0"/><circle cx="402.7" cy="379.3" r="3.0"/><circle cx="408.9" cy="382.6" r="3.0"/><circle cx="414.9" cy="386.3" r="3.0"/><circle cx="420.6" cy="390.2" r="3.0"/><circle cx="426.2" cy="394.5" r="3.0"/><circle cx="431.5" cy="399.1" r="3.0"/><circle cx="436.6" cy="403.9" r="3.0"/><circle cx="441.4" cy="409.0" r="3.0"/><circle cx="445.9" cy="414.3" r="3.0"/><circle cx="450.1" cy="419.9" r="3.0"/><circle cx="454.1" cy="425.7" r="3.0"/><circle cx="457.7" cy="431.7" r="3.0"/><circle cx="461.0" cy="437.8" r="3.0"/><circle cx="464.0" cy="444.2" r="3.0"/><circle cx="466.6" cy="450.7" r="3.0"/><circle cx="468.9" cy="457.3" r="3.0"/><circle cx="470.8" cy="464.0" r="3.0"/><circle cx="472.4" cy="470.8" r="3.0"/><circle cx="473.6" cy="477.7" r="3.0"/><circle cx="474.4" cy="484.7" r="3.0"/><circle cx="474.9" cy="491.7" r="3.0"/><circle cx="475.0" cy="498.7" r="3.0"/><circle cx="475.0" cy="505.0" r="3.0"/><circle cx="475.0" cy="511.4" r="3.0"/><circle cx="475.0" cy="517.7" r="3.0"/><circle cx="475.0" cy="524.1" r="3.0"/><circle cx="475.0" cy="530.4" r="3.0"/><circle cx="475.0" cy="536.8" r="3.0"/><circle cx="475.0" cy="543.1" r="3.0"/><circle cx="475.0" cy="549.5" r="3.0"/><circle cx="475.0" cy="555.8" r="3.0"/><circle cx="475.0" cy="562.2" r="3.0"/><circle cx="475.0" cy="568.5" r="3.0"/><circle cx="475.0" cy="574.9" r="3.0"/><circle cx="475.0" cy="581.2" r="3.0"/><circle cx="475.0" cy="587.6" r="3.0"/><circle cx="475.0" cy="593.9" r="3.0"/><circle cx="475.0" cy="600.3" r="3.0"/><circle cx="475.0" cy="606.6" r="3.0"/><circle cx="475.0" cy="613.0" r="3.0"/><circle cx="475.0" cy="619.3" r="3.0"/><circle cx="475.0" cy="625.7" r="3.0"/><circle cx="475.0" cy="632.0" r="3.0"/><circle cx="475.0" cy="638.4" r="3.0"/><circle cx="475.0" cy="644.7" r="3.0"/><circle cx="475.0" cy="651.1" r="3.0"/><circle cx="475.0" cy="657.4" r="3.0"/><circle cx="475.0" cy="663.8" r="3.0"/><circle cx="475.0" cy="670.1" r="3.0"/><circle cx="475.0" cy="676.5" r="3.0"/><circle cx="475.0" cy="682.8" r="3.0"/><circle cx="475.0" cy="689.2" r="3.0"/><circle cx="475.0" cy="695.5" r="3.0"/><circle cx="476.0" cy="699.8" r="3.0"/><circle cx="478.2" cy="703.6" r="3.0"/><circle cx="481.4" cy="706.5" r="3.0"/><circle cx="485.4" cy="708.4" r="3.0"/><circle cx="489.7" cy="708.7" r="3.0"/><circle cx="496.1" cy="708.7" r="3.0"/><circle cx="502.4" cy="708.7" r="3.0"/><circle cx="508.8" cy="708.7" r="3.0"/><circle cx="515.1" cy="708.7" r="3.0"/><circle cx="521.5" cy="708.7" r="3.0"/><circle cx="527.8" cy="708.7" r="3.0"/><circle cx="534.2" cy="708.7" r="3.0"/><circle cx="540.5" cy="708.7" r="3.0"/><circle cx="546.9" cy="708.7" r="3.0"/><circle cx="553.2" cy="708.7" r="3.0"/><circle cx="559.6" cy="708.7" r="3.0"/><circle cx="565.9" cy="708.7" r="3.0"/><circle cx="572.3" cy="708.7" r="3.0"/><circle cx="578.6" cy="708.7" r="3.0"/><circle cx="585.0" cy="708.7" r="3.0"/><circle cx="591.3" cy="708.7" r="3.0"/><circle cx="82.0" cy="740.0" r="3.0"/><circle cx="88.3" cy="740.0" r="3.0"/><circle cx="94.7" cy="740.0" r="3.0"/><circle cx="101.0" cy="740.0" r="3.0"/><circle cx="107.4" cy="740.0" r="3.0"/><circle cx="113.8" cy="740.0" r="3.0"/><circle cx="120.1" cy="740.0" r="3.0"/><circle cx="126.5" cy="740.0" r="3.0"/><circle cx="132.8" cy="740.0" r="3.0"/><circle cx="139.2" cy="740.0" r="3.0"/><circle cx="145.5" cy="740.0" r="3.0"/><circle cx="151.9" cy="740.0" r="3.0"/><circle cx="158.2" cy="740.0" r="3.0"/><circle cx="164.6" cy="740.0" r="3.0"/><circle cx="170.9" cy="740.0" r="3.0"/><circle cx="177.2" cy="740.0" r="3.0"/><circle cx="183.6" cy="740.0" r="3.0"/><circle cx="189.9" cy="740.0" r="3.0"/><circle cx="196.3" cy="740.4" r="3.0"/><circle cx="203.0" cy="739.6" r="3.0"/><circle cx="209.6" cy="737.9" r="3.0"/><circle cx="215.9" cy="735.2" r="3.0"/><circle cx="221.7" cy="731.7" r="3.0"/><circle cx="226.9" cy="727.4" r="3.0"/><circle cx="231.5" cy="722.4" r="3.0"/><circle cx="235.4" cy="716.8" r="3.0"/><circle cx="238.4" cy="710.7" r="3.0"/><circle cx="240.5" cy="704.3" r="3.0"/><circle cx="241.7" cy="697.6" r="3.0"/><circle cx="242.0" cy="690.8" r="3.0"/><circle cx="242.0" cy="684.4" r="3.0"/><circle cx="242.0" cy="678.1" r="3.0"/><circle cx="242.0" cy="671.7" r="3.0"/><circle cx="242.0" cy="665.4" r="3.0"/><circle cx="242.0" cy="659.0" r="3.0"/><circle cx="242.0" cy="652.7" r="3.0"/><circle cx="242.0" cy="646.3" r="3.0"/><circle cx="242.0" cy="640.0" r="3.0"/><circle cx="242.0" cy="633.6" r="3.0"/><circle cx="242.0" cy="627.3" r="3.0"/><circle cx="242.0" cy="620.9" r="3.0"/><circle cx="242.0" cy="614.6" r="3.0"/><circle cx="242.0" cy="608.2" r="3.0"/><circle cx="242.0" cy="601.9" r="3.0"/><circle cx="242.0" cy="595.5" r="3.0"/><circle cx="242.0" cy="589.2" r="3.0"/><circle cx="242.0" cy="582.8" r="3.0"/><circle cx="242.0" cy="576.5" r="3.0"/><circle cx="242.0" cy="570.1" r="3.0"/><circle cx="242.0" cy="563.8" r="3.0"/><circle cx="242.0" cy="557.4" r="3.0"/><circle cx="242.0" cy="551.1" r="3.0"/><circle cx="242.0" cy="544.7" r="3.0"/><circle cx="242.0" cy="538.4" r="3.0"/><circle cx="242.0" cy="532.0" r="3.0"/><circle cx="242.0" cy="525.7" r="3.0"/><circle cx="242.0" cy="519.3" r="3.0"/><circle cx="242.0" cy="513.0" r="3.0"/><circle cx="242.0" cy="506.6" r="3.0"/><circle cx="242.0" cy="500.3" r="3.0"/><circle cx="242.0" cy="493.9" r="3.0"/><circle cx="242.4" cy="488.4" r="3.0"/><circle cx="243.0" cy="482.8" r="3.0"/><circle cx="243.9" cy="477.3" r="3.0"/><circle cx="245.2" cy="471.8" r="3.0"/><circle cx="246.7" cy="466.4" r="3.0"/><circle cx="248.6" cy="461.1" r="3.0"/><circle cx="250.7" cy="456.0" r="3.0"/><circle cx="253.1" cy="450.9" r="3.0"/><circle cx="255.8" cy="446.0" r="3.0"/><circle cx="258.8" cy="441.3" r="3.0"/><circle cx="262.0" cy="436.7" r="3.0"/><circle cx="265.5" cy="432.3" r="3.0"/><circle cx="269.2" cy="428.1" r="3.0"/><circle cx="273.1" cy="424.1" r="3.0"/><circle cx="277.2" cy="420.3" r="3.0"/><circle cx="281.6" cy="416.8" r="3.0"/><circle cx="286.1" cy="413.5" r="3.0"/><circle cx="290.9" cy="410.5" r="3.0"/><circle cx="295.7" cy="407.7" r="3.0"/><circle cx="300.7" cy="405.3" r="3.0"/><circle cx="305.9" cy="403.1" r="3.0"/><circle cx="311.2" cy="401.2" r="3.0"/><circle cx="316.5" cy="399.5" r="3.0"/><circle cx="322.0" cy="398.2" r="3.0"/><circle cx="327.5" cy="397.2" r="3.0"/><circle cx="333.0" cy="396.5" r="3.0"/><circle cx="338.6" cy="396.1" r="3.0"/><circle cx="344.2" cy="396.0" r="3.0"/><circle cx="349.8" cy="396.2" r="3.0"/><circle cx="355.4" cy="396.8" r="3.0"/><circle cx="360.9" cy="397.6" r="3.0"/><circle cx="366.4" cy="398.7" r="3.0"/><circle cx="371.8" cy="400.2" r="3.0"/><circle cx="377.1" cy="401.9" r="3.0"/><circle cx="382.3" cy="404.0" r="3.0"/><circle cx="387.4" cy="406.3" r="3.0"/><circle cx="392.4" cy="408.9" r="3.0"/><circle cx="397.2" cy="411.8" r="3.0"/><circle cx="401.8" cy="414.9" r="3.0"/><circle cx="406.3" cy="418.3" r="3.0"/><circle cx="410.6" cy="421.9" r="3.0"/><circle cx="414.6" cy="425.8" r="3.0"/><circle cx="418.4" cy="429.9" r="3.0"/><circle cx="422.1" cy="434.1" r="3.0"/><circle cx="425.4" cy="438.6" r="3.0"/><circle cx="428.5" cy="443.3" r="3.0"/><circle cx="431.4" cy="448.1" r="3.0"/><circle cx="433.9" cy="453.1" r="3.0"/><circle cx="436.2" cy="458.2" r="3.0"/><circle cx="438.2" cy="463.4" r="3.0"/><circle cx="440.0" cy="468.7" r="3.0"/><circle cx="441.4" cy="474.2" r="3.0"/><circle cx="442.5" cy="479.6" r="3.0"/><circle cx="443.3" cy="485.2" r="3.0"/><circle cx="443.8" cy="490.8" r="3.0"/><circle cx="444.0" cy="496.4" r="3.0"/><circle cx="444.0" cy="502.0" r="3.0"/><circle cx="444.0" cy="508.3" r="3.0"/><circle cx="444.0" cy="514.7" r="3.0"/><circle cx="444.0" cy="521.0" r="3.0"/><circle cx="444.0" cy="527.4" r="3.0"/><circle cx="444.0" cy="533.7" r="3.0"/><circle cx="444.0" cy="540.1" r="3.0"/><circle cx="444.0" cy="546.4" r="3.0"/><circle cx="444.0" cy="552.8" r="3.0"/><circle cx="444.0" cy="559.1" r="3.0"/><circle cx="444.0" cy="565.5" r="3.0"/><circle cx="444.0" cy="571.8" r="3.0"/><circle cx="444.0" cy="578.2" r="3.0"/><circle cx="444.0" cy="584.5" r="3.0"/><circle cx="444.0" cy="590.9" r="3.0"/><circle cx="444.0" cy="597.2" r="3.0"/><circle cx="444.0" cy="603.6" r="3.0"/><circle cx="444.0" cy="609.9" r="3.0"/><circle cx="444.0" cy="616.3" r="3.0"/><circle cx="444.0" cy="622.6" r="3.0"/><circle cx="444.0" cy="629.0" r="3.0"/><circle cx="444.0" cy="635.3" r="3.0"/><circle cx="444.0" cy="641.7" r="3.0"/><circle cx="444.0" cy="648.0" r="3.0"/><circle cx="444.0" cy="654.4" r="3.0"/><circle cx="444.0" cy="660.7" r="3.0"/><circle cx="444.0" cy="667.1" r="3.0"/><circle cx="444.0" cy="673.4" r="3.0"/><circle cx="444.0" cy="679.8" r="3.0"/><circle cx="444.0" cy="686.1" r="3.0"/><circle cx="444.0" cy="692.5" r="3.0"/><circle cx="444.2" cy="698.8" r="3.0"/><circle cx="445.3" cy="705.5" r="3.0"/><circle cx="447.5" cy="711.9" r="3.0"/><circle cx="450.5" cy="718.0" r="3.0"/><circle cx="454.5" cy="723.5" r="3.0"/><circle cx="459.2" cy="728.4" r="3.0"/><circle cx="464.6" cy="732.6" r="3.0"/><circle cx="470.5" cy="735.9" r="3.0"/><circle cx="476.9" cy="738.2" r="3.0"/><circle cx="483.5" cy="739.6" r="3.0"/><circle cx="490.3" cy="739.7" r="3.0"/><circle cx="496.7" cy="739.7" r="3.0"/><circle cx="503.0" cy="739.7" r="3.0"/><circle cx="509.4" cy="739.7" r="3.0"/><circle cx="515.7" cy="739.7" r="3.0"/><circle cx="522.1" cy="739.7" r="3.0"/><circle cx="528.4" cy="739.7" r="3.0"/><circle cx="534.8" cy="739.7" r="3.0"/><circle cx="541.1" cy="739.7" r="3.0"/><circle cx="547.5" cy="739.7" r="3.0"/><circle cx="553.8" cy="739.7" r="3.0"/><circle cx="560.2" cy="739.7" r="3.0"/><circle cx="566.5" cy="739.7" r="3.0"/><circle cx="572.9" cy="739.7" r="3.0"/><circle cx="579.2" cy="739.7" r="3.0"/><circle cx="585.6" cy="739.7" r="3.0"/><circle cx="591.9" cy="739.7" r="3.0"/></g>
<g font-family="Liberation Sans, sans-serif">
<text x="100.00" y="695.50" font-size="33.6" font-weight="normal" fill="#231815">Cilium</text>
<text x="144.20" y="564.80" font-size="33" font-weight="normal" fill="#231815">dynein</text>
<path d="M315 658.5 L333 686 L328 690 Z M375.5 658.5 L357 686 L362 690 Z" fill="#cfd4d7" fill-opacity="0.7" stroke="#b8bec2" stroke-width="0.5"/>
<rect x="332.2" y="468" width="25.3" height="210" fill="#b4b4b4"/>
<rect x="332.2" y="470" width="3" height="206" fill="#a2a2a2"/>
<rect x="335.5" y="470" width="2" height="206" fill="#c2c2c2"/>
<rect x="338" y="470" width="2.5" height="206" fill="#a6a6a6"/>
<rect x="341" y="470" width="2" height="206" fill="#c6c6c6"/>
<rect x="343.5" y="470" width="2.2" height="206" fill="#9a9a9a"/>
<rect x="346" y="470" width="3" height="206" fill="#c8c8c8"/>
<rect x="349.5" y="470" width="2" height="206" fill="#a0a0a0"/>
<rect x="352" y="470" width="2.5" height="206" fill="#bdbdbd"/>
<rect x="355" y="470" width="2.5" height="206" fill="#989898"/>
<path d="M332.2 470 Q333 464 338 463.5 Q345 461.5 352 463.5 Q357 464 357.5 470 Z" fill="#a8a8a8"/>
<path d="M336 470 L336 465 L340 463.5 L350 463.5 L354 465 L354 472 Q345 476 336 472 Z" fill="#858585"/>
<rect x="339" y="464" width="1.6" height="9" fill="#b8b8b8"/>
<rect x="343" y="464" width="1.6" height="9" fill="#b8b8b8"/>
<rect x="347" y="464" width="1.6" height="9" fill="#b8b8b8"/>
<rect x="351" y="464" width="1.6" height="9" fill="#b8b8b8"/>
<rect x="328.4" y="676" width="33.4" height="62.5" rx="2" fill="#8c8c8c"/>
<rect x="328.4" y="678" width="2.5" height="60" fill="#7e7e7e"/>
<rect x="331.5" y="678" width="4" height="60" fill="#9a9a9a"/>
<rect x="336" y="678" width="2" height="60" fill="#7a7a7a"/>
<rect x="338.5" y="678" width="4" height="60" fill="#9c9c9c"/>
<rect x="343" y="678" width="2" height="60" fill="#7c7c7c"/>
<rect x="345.5" y="678" width="4" height="60" fill="#9a9a9a"/>
<rect x="350" y="678" width="2" height="60" fill="#7a7a7a"/>
<rect x="352.5" y="678" width="4" height="60" fill="#989898"/>
<rect x="357" y="678" width="2" height="60" fill="#7c7c7c"/>
<rect x="359.5" y="678" width="2.3" height="60" fill="#909090"/>
<path d="M329 677.5 Q333 674 337 677 Q341 673.5 345 677 Q349 673.5 353 677 Q357 674 361.5 677.5" fill="none" stroke="#c4c4c4" stroke-width="1.6"/>
<path d="M343 739 C345 756 352 762 380 767 M345 739 C348 754 356 760 382 766 M347 739 C351 752 360 757 384 765 M349 739 C355 751 364 755 386 764 M342 739 C343 758 350 765 378 768" fill="none" stroke="#8f9496" stroke-width="0.7"/>
<path d="M381 768 L436 786 L431 821 L378 811.5 Z" fill="#868686"/><path d="M381.0 772.0 L435.0 789.0" stroke="#a0a0a0" stroke-width="1.8"/><path d="M380.4 779.4 L434.0 795.0" stroke="#a0a0a0" stroke-width="1.8"/><path d="M379.8 786.8 L433.0 801.0" stroke="#a0a0a0" stroke-width="1.8"/><path d="M379.2 794.2 L432.0 807.0" stroke="#a0a0a0" stroke-width="1.8"/><path d="M378.6 801.6 L431.0 813.0" stroke="#a0a0a0" stroke-width="1.8"/><path d="M378.0 809.0 L430.0 819.0" stroke="#a0a0a0" stroke-width="1.8"/><path d="M435 786 L439 803 L431 821" fill="none" stroke="#b0b0b0" stroke-width="3" stroke-dasharray="2.3 1.2"/><g transform="rotate(-12 377.5 789.5)"><ellipse cx="377.5" cy="789.5" rx="9.5" ry="20" fill="#555"/><rect x="370" y="776" width="15" height="2.2" fill="#6c6c6c"/><rect x="370" y="782" width="15" height="2.2" fill="#6c6c6c"/><rect x="370" y="788" width="15" height="2.2" fill="#6c6c6c"/><rect x="370" y="794" width="15" height="2.2" fill="#6c6c6c"/><rect x="370" y="800" width="15" height="2.2" fill="#6c6c6c"/><ellipse cx="377.5" cy="789.5" rx="9.8" ry="20.3" fill="none" stroke="#d6d6d6" stroke-width="4" stroke-dasharray="2.8 1.2"/></g>
<ellipse cx="408.8" cy="796.8" rx="22.8" ry="23.5" fill="url(#gB)" stroke="#231815" stroke-width="4.4"/>
<g transform="translate(408.8 811.1) scale(1 1.035)"><text x="-9.18" y="0.00" font-size="33" font-weight="normal" fill="#231815"> </text>
<path d="M0.35 0L0.35 0.70L0.285 0.70L0.25 0.65L0.18 0.595L0.09 0.548L0.09 0.468L0.17 0.505L0.26 0.565L0.26 0Z" fill="#231815" transform="translate(-9.18 0.00) scale(33 -33)"/>
</g>
<path d="M463.4 848.7 C400 838 300 810 276 760" fill="none" stroke="#231815" stroke-width="3.8"/>
<polygon points="271.3,744.5 264.5,763.3 285,759.9" fill="#231815"/>
<path d="M231.5 463 Q232 453 256 452.5 Q280 453 280 463 L278.8 529 Q278.5 541 256 541.5 Q231 542 230.5 530 Z" fill="url(#gIA)" stroke="#231815" stroke-width="3.7"/>
<g transform="translate(269 499) rotate(-90)"><text x="-40.33" y="0.00" font-size="33" font-weight="normal" fill="#231815">IFT-A</text>
</g>
<path d="M268.5 542 Q269 532 292.5 531.8 Q316.5 532 316.5 542 L317 610 Q317 620 295 620.5 Q270 621 269.5 610 Z" fill="url(#gIB)" stroke="#231815" stroke-width="3.7"/>
<g transform="translate(306.5 578.2) rotate(-90)"><text x="-40.33" y="0.00" font-size="33" font-weight="normal" fill="#231815">IFT-B</text>
</g>
<rect x="228.8" y="567" width="47.6" height="140.2" rx="11" ry="9" fill="url(#gBBS)"/>
<g transform="translate(263.6 636.3) rotate(-90)"><text x="-65.11" y="0.00" font-size="33" font-weight="normal" fill="#000">BBSome</text>
</g>
<path d="M262 550 L283.5 565.5 M263 553 L280.5 571" stroke="#62289a" stroke-width="3.4"/>
<circle cx="262.4" cy="545.3" r="8.2" fill="url(#gDyn)"/>
<circle cx="254.5" cy="557.6" r="8.8" fill="url(#gDyn)"/>
<circle cx="283.9" cy="565.5" r="4.3" fill="url(#gDyn)"/>
<circle cx="280.7" cy="571.2" r="4.1" fill="url(#gDyn)"/>
<ellipse cx="307.2" cy="534" rx="4.5" ry="2.7" fill="#ee4fa8"/><ellipse cx="307.2" cy="541.5" rx="4.5" ry="2.7" fill="#ee4fa8"/>
<path d="M315 537.5 c0 -7 6 -7 6 0 c0 7 -6 7 -6 0 M321 537.5 c0 -7 6 -7 6 0 c0 7 -6 7 -6 0 M327 537.5 c0 -7 6 -7 6 0 c0 7 -6 7 -6 0" fill="none" stroke="#231815" stroke-width="3"/>
<ellipse cx="340.8" cy="531" rx="8" ry="6.2" fill="url(#gKin)"/><ellipse cx="341.4" cy="543" rx="8.3" ry="6.5" fill="url(#gKin)"/>
<g transform="translate(377.1 538.5) rotate(-90)"><text x="-51.36" y="0.00" font-size="33" font-weight="normal" fill="#231815">kinesin</text>
</g>
<ellipse cx="497.8" cy="833.9" rx="22.8" ry="23.5" fill="url(#gY)" stroke="#231815" stroke-width="4.4" transform="rotate(-23 497.8 833.9)"/>
<g transform="rotate(-23 497.8 833.9) translate(497.8 848.2) scale(1 1.035)"><text x="-9.18" y="0.00" font-size="33" font-weight="normal" fill="#231815">4</text>
</g>
<ellipse cx="536.9" cy="817.3" rx="22.8" ry="23.5" fill="url(#gP)" stroke="#231815" stroke-width="4.4" transform="rotate(-23 536.9 817.3)"/>
<g transform="rotate(-23 536.9 817.3) translate(536.9 831.6) scale(1 1.035)"><text x="-18.35" y="0.00" font-size="33" font-weight="normal" fill="#231815"> 8</text>
<path d="M0.35 0L0.35 0.70L0.285 0.70L0.25 0.65L0.18 0.595L0.09 0.548L0.09 0.468L0.17 0.505L0.26 0.565L0.26 0Z" fill="#231815" transform="translate(-18.35 0.00) scale(33 -33)"/>
</g>
<ellipse cx="579.0" cy="799.2" rx="22.8" ry="23.5" fill="url(#gP)" stroke="#231815" stroke-width="4.4" transform="rotate(-23 579.0 799.2)"/>
<g transform="rotate(-23 579.0 799.2) translate(579.0 813.5) scale(1 1.035)"><text x="-9.18" y="0.00" font-size="33" font-weight="normal" fill="#231815">8</text>
</g>
<ellipse cx="620.5" cy="780.0" rx="22.8" ry="23.5" fill="url(#gB)" stroke="#231815" stroke-width="4.4" transform="rotate(-23 620.5 780.0)"/>
<g transform="rotate(-23 620.5 780.0) translate(620.5 794.3) scale(1 1.035)"><text x="-9.18" y="0.00" font-size="33" font-weight="normal" fill="#231815">9</text>
</g>
<ellipse cx="660.0" cy="763.6" rx="22.8" ry="23.5" fill="url(#gB)" stroke="#231815" stroke-width="4.4" transform="rotate(-23 660.0 763.6)"/>
<g transform="rotate(-23 660.0 763.6) translate(660.0 777.9) scale(1 1.035)"><text x="-9.18" y="0.00" font-size="33" font-weight="normal" fill="#231815"> </text>
<path d="M0.35 0L0.35 0.70L0.285 0.70L0.25 0.65L0.18 0.595L0.09 0.548L0.09 0.468L0.17 0.505L0.26 0.565L0.26 0Z" fill="#231815" transform="translate(-9.18 0.00) scale(33 -33)"/>
</g>
<ellipse cx="599.0" cy="735.3" rx="22.8" ry="23.5" fill="url(#gB)" stroke="#231815" stroke-width="4.4" transform="rotate(-23 599.0 735.3)"/>
<g transform="rotate(-23 599.0 735.3) translate(599.0 749.6) scale(1 1.035)"><text x="-9.18" y="0.00" font-size="33" font-weight="normal" fill="#231815">2</text>
</g>
<ellipse cx="641.5" cy="717.0" rx="22.8" ry="23.5" fill="url(#gB)" stroke="#231815" stroke-width="4.4" transform="rotate(-23 641.5 717.0)"/>
<g transform="rotate(-23 641.5 717.0) translate(641.5 731.3) scale(1 1.035)"><text x="-9.18" y="0.00" font-size="33" font-weight="normal" fill="#231815">7</text>
</g>
<ellipse cx="640.5" cy="824.0" rx="22.8" ry="23.5" fill="url(#gP)" stroke="#231815" stroke-width="4.4" transform="rotate(-23 640.5 824.0)"/>
<g transform="rotate(-23 640.5 824.0) translate(640.5 838.3) scale(1 1.035)"><text x="-9.18" y="0.00" font-size="33" font-weight="normal" fill="#231815">5</text>
</g>
</g>
<path d="M961.7 454.5C982.4 456.5 1016.7 465.1 1036.0 473.0C1055.3 480.9 1064.9 491.0 1077.3 502.0C1089.7 513.0 1101.7 525.9 1110.3 539.0C1118.9 552.1 1125.0 565.9 1128.9 580.4C1132.9 594.9 1133.7 610.7 1134.0 625.8C1134.3 640.9 1134.3 657.4 1131.0 671.2C1127.7 685.0 1121.3 696.7 1114.4 708.4C1107.5 720.1 1100.7 731.1 1089.7 741.4C1078.7 751.7 1062.9 763.4 1048.4 770.3C1034.0 777.2 1020.2 779.9 1003.0 782.7C985.8 785.5 959.7 787.0 945.2 787.0C930.7 787.0 927.9 785.5 916.2 782.7C904.5 779.9 887.4 775.1 875.0 770.3C862.6 765.5 852.7 761.3 841.9 753.8C831.1 746.2 817.8 735.6 810.0 725.0C802.2 714.4 797.9 700.8 795.0 690.0C792.1 679.2 792.1 672.1 792.4 660.0C792.6 647.9 794.6 629.2 796.5 617.5C798.4 605.8 800.4 599.1 804.0 590.0C807.6 580.9 812.8 573.7 818.0 563.0C823.2 552.3 829.7 536.2 835.0 526.0C840.3 515.8 844.2 509.3 850.0 502.0C855.8 494.7 859.7 488.8 870.0 482.0C880.3 475.2 896.7 465.6 912.0 461.0C927.3 456.4 941.0 452.5 961.7 454.5Z" fill="#d6ddea" stroke="#7a8ba4" stroke-width="4.2" stroke-dasharray="11 6.5"/>
<g font-family="Liberation Sans, sans-serif">
<text x="891.00" y="496.00" font-size="33" font-weight="bold" fill="#231815">Organizer:</text>
<text x="937.90" y="540.10" font-size="32.5" font-weight="normal" fill="#231815">PCM </text>
<path d="M0.35 0L0.35 0.70L0.285 0.70L0.25 0.65L0.18 0.595L0.09 0.548L0.09 0.468L0.17 0.505L0.26 0.565L0.26 0Z" fill="#231815" transform="translate(1010.12 540.10) scale(32.5 -32.5)"/>
<ellipse cx="1083.8" cy="548.4" rx="22.8" ry="23.5" fill="url(#gY)" stroke="#231815" stroke-width="4.4"/>
<g transform="translate(1083.8 562.7) scale(1 1.035)"><text x="-9.18" y="0.00" font-size="33" font-weight="normal" fill="#231815">4</text>
</g>
<text x="891.40" y="614.40" font-size="33.2" font-weight="bold" fill="#231815">Positive regulator:</text>
<text x="937.60" y="650.50" font-size="33.2" font-weight="normal" fill="#231815">CEP72, CEP290, SSX2IP,</text>
<text x="937.60" y="690.30" font-size="33" font-weight="normal" fill="#231815">CCDC66, DZIP </text>
<path d="M0.35 0L0.35 0.70L0.285 0.70L0.25 0.65L0.18 0.595L0.09 0.548L0.09 0.468L0.17 0.505L0.26 0.565L0.26 0Z" fill="#231815" transform="translate(1163.14 690.30) scale(33 -33)"/>
<text x="891.00" y="758.90" font-size="33.2" font-weight="bold" fill="#231815">Negative regulator:</text>
<text x="937.60" y="794.00" font-size="32.3" font-weight="normal" fill="#231815">AZI </text>
<path d="M0.35 0L0.35 0.70L0.285 0.70L0.25 0.65L0.18 0.595L0.09 0.548L0.09 0.468L0.17 0.505L0.26 0.565L0.26 0Z" fill="#231815" transform="translate(987.85 794.00) scale(32.3 -32.3)"/>
<path d="M846.8 511 L840.5 552.5 L875.5 551 L880.3 514 Z" fill="#767676"/><path d="M849.0 518 L843.0 551" stroke="#8e8e8e" stroke-width="1.8"/><path d="M853.2 518 L847.3 551" stroke="#8e8e8e" stroke-width="1.8"/><path d="M857.4 518 L851.6 551" stroke="#8e8e8e" stroke-width="1.8"/><path d="M861.6 518 L855.9 551" stroke="#8e8e8e" stroke-width="1.8"/><path d="M865.8 518 L860.2 551" stroke="#8e8e8e" stroke-width="1.8"/><path d="M870.0 518 L864.5 551" stroke="#8e8e8e" stroke-width="1.8"/><path d="M874.2 518 L868.8 551" stroke="#8e8e8e" stroke-width="1.8"/><path d="M878.4 518 L873.1 551" stroke="#8e8e8e" stroke-width="1.8"/><path d="M841.5 544 L876.3 542.5 L875.5 551 L840.5 552.5 Z" fill="#5c5c5c"/><g transform="rotate(-8 863.7 512.4)"><ellipse cx="863.7" cy="512.4" rx="14.5" ry="13.5" fill="#3e3e3e"/><rect x="856" y="502" width="2" height="20" fill="#555"/><rect x="861" y="502" width="2" height="20" fill="#555"/><rect x="866" y="502" width="2" height="20" fill="#555"/><rect x="871" y="502" width="2" height="20" fill="#555"/><ellipse cx="863.7" cy="512.4" rx="14.8" ry="13.8" fill="none" stroke="#cdcdcd" stroke-width="3.2" stroke-dasharray="2.3 1.2"/></g><rect x="831.3" y="553" width="66" height="32.5" fill="#7a7a7a"/><path d="M832 556.0 L897 556.0" stroke="#979797" stroke-width="2"/><path d="M832 561.2 L897 561.2" stroke="#979797" stroke-width="2"/><path d="M832 566.4 L897 566.4" stroke="#979797" stroke-width="2"/><path d="M832 571.6 L897 571.6" stroke="#979797" stroke-width="2"/><path d="M832 576.8 L897 576.8" stroke="#979797" stroke-width="2"/><path d="M832 582.0 L897 582.0" stroke="#979797" stroke-width="2"/><path d="M845 553.6 L897 553.6" stroke="#b8b8b8" stroke-width="1.6"/><path d="M831.3 556 L831.3 585" stroke="#a8a8a8" stroke-width="2" stroke-dasharray="2 2"/><ellipse cx="896.7" cy="570.9" rx="14" ry="14.5" fill="#3c3c3c"/><rect x="884" y="562" width="24" height="2" fill="#575757"/><rect x="884" y="567" width="24" height="2" fill="#575757"/><rect x="884" y="572" width="24" height="2" fill="#575757"/><rect x="884" y="577" width="24" height="2" fill="#575757"/><ellipse cx="896.7" cy="570.9" rx="14.3" ry="14.8" fill="none" stroke="#cdcdcd" stroke-width="3.2" stroke-dasharray="2.3 1.2"/>
<ellipse cx="740.8" cy="613.2" rx="22.8" ry="23.5" fill="url(#gY)" stroke="#231815" stroke-width="4.4" transform="rotate(30 740.8 613.2)"/>
<g transform="rotate(30 740.8 613.2) translate(740.8 627.5) scale(1 1.035)"><text x="-9.18" y="0.00" font-size="33" font-weight="normal" fill="#231815">4</text>
</g>
<ellipse cx="777.6" cy="634.4" rx="22.8" ry="23.5" fill="url(#gP)" stroke="#231815" stroke-width="4.4" transform="rotate(30 777.6 634.4)"/>
<g transform="rotate(30 777.6 634.4) translate(777.6 648.7) scale(1 1.035)"><text x="-18.35" y="0.00" font-size="33" font-weight="normal" fill="#231815"> 8</text>
<path d="M0.35 0L0.35 0.70L0.285 0.70L0.25 0.65L0.18 0.595L0.09 0.548L0.09 0.468L0.17 0.505L0.26 0.565L0.26 0Z" fill="#231815" transform="translate(-18.35 0.00) scale(33 -33)"/>
</g>
<ellipse cx="817.4" cy="657.1" rx="22.8" ry="23.5" fill="url(#gP)" stroke="#231815" stroke-width="4.4" transform="rotate(30 817.4 657.1)"/>
<g transform="rotate(30 817.4 657.1) translate(817.4 671.4) scale(1 1.035)"><text x="-9.18" y="0.00" font-size="33" font-weight="normal" fill="#231815">8</text>
</g>
<ellipse cx="857.7" cy="678.7" rx="22.8" ry="23.5" fill="url(#gB)" stroke="#231815" stroke-width="4.4" transform="rotate(30 857.7 678.7)"/>
<g transform="rotate(30 857.7 678.7) translate(857.7 693.0) scale(1 1.035)"><text x="-9.18" y="0.00" font-size="33" font-weight="normal" fill="#231815">9</text>
</g>
<ellipse cx="894.6" cy="700.4" rx="22.8" ry="23.5" fill="url(#gB)" stroke="#231815" stroke-width="4.4" transform="rotate(30 894.6 700.4)"/>
<g transform="rotate(30 894.6 700.4) translate(894.6 714.7) scale(1 1.035)"><text x="-9.18" y="0.00" font-size="33" font-weight="normal" fill="#231815"> </text>
<path d="M0.35 0L0.35 0.70L0.285 0.70L0.25 0.65L0.18 0.595L0.09 0.548L0.09 0.468L0.17 0.505L0.26 0.565L0.26 0Z" fill="#231815" transform="translate(-9.18 0.00) scale(33 -33)"/>
</g>
<ellipse cx="880.5" cy="634.7" rx="22.8" ry="23.5" fill="url(#gB)" stroke="#231815" stroke-width="4.4" transform="rotate(30 880.5 634.7)"/>
<g transform="rotate(30 880.5 634.7) translate(880.5 649.0) scale(1 1.035)"><text x="-9.18" y="0.00" font-size="33" font-weight="normal" fill="#231815">2</text>
</g>
<ellipse cx="920.7" cy="657.6" rx="22.8" ry="23.5" fill="url(#gB)" stroke="#231815" stroke-width="4.4" transform="rotate(30 920.7 657.6)"/>
<g transform="rotate(30 920.7 657.6) translate(920.7 671.9) scale(1 1.035)"><text x="-9.18" y="0.00" font-size="33" font-weight="normal" fill="#231815">7</text>
</g>
<ellipse cx="834.6" cy="721.1" rx="22.8" ry="23.5" fill="url(#gP)" stroke="#231815" stroke-width="4.4" transform="rotate(30 834.6 721.1)"/>
<g transform="rotate(30 834.6 721.1) translate(834.6 735.4) scale(1 1.035)"><text x="-9.18" y="0.00" font-size="33" font-weight="normal" fill="#231815">5</text>
</g>
</g>
</svg></body></html>
